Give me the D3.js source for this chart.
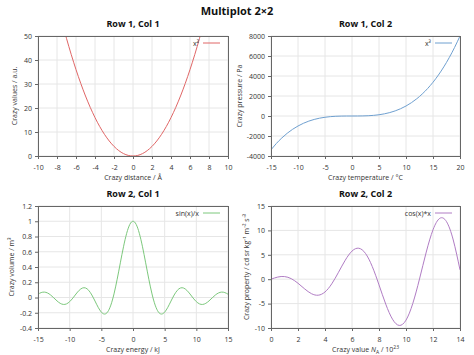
<!DOCTYPE html>
<html><head><meta charset="utf-8">
<script src="https://cdn.jsdelivr.net/npm/d3@7"></script>
<style>body{margin:0;background:#fff;font-family:"Open Sans",sans-serif}</style>
</head><body><svg id="c" width="474" height="355"></svg>
<script>
// ---- data ----
const x1 = [-10,-9.5,-9,-8.5,-8,-7.5,-7,-6.5,-6,-5.5,-5,-4.5,-4,-3.5,-3,-2.5,-2,-1.5,-1,-0.5,0,0.5,1,1.5,2,2.5,3,3.5,4,4.5,5,5.5,6,6.5,7,7.5,8,8.5,9,9.5,10];
const y1 = [100,90.25,81,72.25,64,56.25,49,42.25,36,30.25,25,20.25,16,12.25,9,6.25,4,2.25,1,0.25,0,0.25,1,2.25,4,6.25,9,12.25,16,20.25,25,30.25,36,42.25,49,56.25,64,72.25,81,90.25,100];
const x2 = [-15,-14,-13,-12,-11,-10,-9,-8,-7,-6,-5,-4,-3,-2,-1,0,1,2,3,4,5,6,7,8,9,10,11,12,13,14,15,16,17,18,19,20];
const y2 = [-3375,-2744,-2197,-1728,-1331,-1000,-729,-512,-343,-216,-125,-64,-27,-8,-1,0,1,8,27,64,125,216,343,512,729,1000,1331,1728,2197,2744,3375,4096,4913,5832,6859,8000];
const x3 = [-15,-14.5,-14,-13.5,-13,-12.5,-12,-11.5,-11,-10.5,-10,-9.5,-9,-8.5,-8,-7.5,-7,-6.5,-6,-5.5,-5,-4.5,-4,-3.5,-3,-2.5,-2,-1.5,-1,-0.5,0,0.5,1,1.5,2,2.5,3,3.5,4,4.5,5,5.5,6,6.5,7,7.5,8,8.5,9,9.5,10,10.5,11,11.5,12,12.5,13,13.5,14,14.5,15];
const y3 = [0.0434,0.0645,0.0708,0.0595,0.0323,-0.0053,-0.0447,-0.0761,-0.0909,-0.0838,-0.0544,-0.0079,0.0458,0.0939,0.1237,0.1251,0.0939,0.0331,-0.0466,-0.1283,-0.1918,-0.2172,-0.1892,-0.1002,0.0470,0.2394,0.4546,0.6650,0.8415,0.9589,1,0.9589,0.8415,0.6650,0.4546,0.2394,0.0470,-0.1002,-0.1892,-0.2172,-0.1918,-0.1283,-0.0466,0.0331,0.0939,0.1251,0.1237,0.0939,0.0458,-0.0079,-0.0544,-0.0838,-0.0909,-0.0761,-0.0447,-0.0053,0.0323,0.0595,0.0708,0.0645,0.0434];
const x4 = [0,0.5,1,1.5,2,2.5,3,3.5,4,4.5,5,5.5,6,6.5,7,7.5,8,8.5,9,9.5,10,10.5,11,11.5,12,12.5,13,13.5,14];
const y4 = [0,0.4388,0.5403,0.1061,-0.8323,-2.0029,-2.9700,-3.2776,-2.6146,-0.9486,1.4183,3.8977,5.7610,6.3479,5.2773,2.5992,-1.1640,-5.1170,-8.2000,-9.4734,-8.3907,-4.9928,0.0487,5.5590,10.1262,12.4728,11.7966,8.0316,1.9142];
const ticks1x = [-10,-8,-6,-4,-2,0,2,4,6,8,10], ticks1y = [0,10,20,30,40,50];
const ticks2x = [-15,-10,-5,0,5,10,15,20], ticks2y = [-4000,-2000,0,2000,4000,6000,8000];
const ticks3x = [-15,-10,-5,0,5,10,15], ticks3y = [-0.4,-0.2,0,0.2,0.4,0.6,0.8,1,1.2];
const ticks4x = [0,2,4,6,8,10,12,14], ticks4y = [-10,-5,0,5,10,15];

const svg = d3.select("#c");
svg.append("text").attr("x",237).attr("y",15).attr("text-anchor","middle")
  .attr("font-size",11).attr("font-weight","bold").attr("fill","#111").text("Multiplot 2×2");

const panels = [
 {x:x1,y:y1,tx:ticks1x,ty:ticks1y,l:38,r:228,t:36,b:156,title:"Row 1, Col 1",color:"#e06666",
  leg:"x²",xl:["Crazy distance / Å"],yl:"Crazy values / a.u.",ylx:17},
 {x:x2,y:y2,tx:ticks2x,ty:ticks2y,l:271,r:460,t:36,b:156,title:"Row 1, Col 2",color:"#6fa0d0",
  leg:"x³",xl:["Crazy temperature / °C"],yl:"Crazy pressure / Pa",ylx:242},
 {x:x3,y:y3,tx:ticks3x,ty:ticks3y,l:38,r:228,t:206,b:328,title:"Row 2, Col 1",color:"#7cc87c",
  leg:"sin(x)/x",xl:["Crazy energy / kJ"],yl:"Crazy volume / m³",ylx:14},
 {x:x4,y:y4,tx:ticks4x,ty:ticks4y,l:271,r:460,t:206,b:328,title:"Row 2, Col 2",color:"#b07cc4",
  leg:"cos(x)*x",xl:null,yl:"Crazy property / cd sr kg⁻¹ m⁻² s⁻³",ylx:249}
];

panels.forEach((p,i)=>{
  const xs = d3.scaleLinear().domain(d3.extent(p.tx)).range([p.l,p.r]);
  const ys = d3.scaleLinear().domain(d3.extent(p.ty)).range([p.b,p.t]);
  const g = svg.append("g");
  g.selectAll(".gx").data(p.tx).enter().append("line")
   .attr("x1",d=>xs(d)).attr("x2",d=>xs(d)).attr("y1",p.t).attr("y2",p.b)
   .attr("stroke","#e6e6e6").attr("stroke-width",1);
  g.selectAll(".gy").data(p.ty).enter().append("line")
   .attr("y1",d=>ys(d)).attr("y2",d=>ys(d)).attr("x1",p.l).attr("x2",p.r)
   .attr("stroke","#e6e6e6").attr("stroke-width",1);
  const cid = "clip"+i;
  svg.append("clipPath").attr("id",cid).append("rect")
    .attr("x",p.l).attr("y",p.t).attr("width",p.r-p.l).attr("height",p.b-p.t);
  const data = p.x.map((v,k)=>[v,p.y[k]]);
  g.append("path").datum(data).attr("clip-path","url(#"+cid+")")
   .attr("fill","none").attr("stroke",p.color).attr("stroke-width",1)
   .attr("d",d3.line().x(d=>xs(d[0])).y(d=>ys(d[1])).curve(d3.curveNatural));
  const fmt = d=>String(d);
  const ax = g.append("g").attr("transform",`translate(0,${p.b})`)
    .call(d3.axisBottom(xs).tickValues(p.tx).tickSize(3).tickSizeOuter(0).tickFormat(fmt));
  const ay = g.append("g").attr("transform",`translate(${p.l},0)`)
    .call(d3.axisLeft(ys).tickValues(p.ty).tickSize(3).tickSizeOuter(0).tickFormat(fmt));
  [ax,ay].forEach(a=>{
    a.select(".domain").attr("stroke","#666");
    a.selectAll(".tick line").attr("stroke","#666");
    a.selectAll("text").attr("font-size",7).attr("fill","#333").attr("font-family","Open Sans, sans-serif");
  });
  ax.selectAll("text").attr("dy","1.15em");
  g.append("line").attr("x1",p.l).attr("x2",p.r).attr("y1",p.t+0.5).attr("y2",p.t+0.5).attr("stroke","#666");
  g.append("line").attr("x1",p.r+0.5).attr("x2",p.r+0.5).attr("y1",p.t).attr("y2",p.b).attr("stroke","#666");
  g.append("text").attr("x",(p.l+p.r)/2).attr("y",p.t-9).attr("text-anchor","middle")
   .attr("font-size",9).attr("font-weight","bold").attr("fill","#111").text(p.title);
  const xlt = g.append("text").attr("x",(p.l+p.r)/2).attr("y",p.b+24).attr("text-anchor","middle")
   .attr("font-size",7).attr("fill","#333");
  if(p.xl) xlt.text(p.xl[0]);
  else {
    xlt.append("tspan").text("Crazy value ");
    xlt.append("tspan").attr("font-style","italic").text("N");
    xlt.append("tspan").attr("font-size",5).attr("dy",1.5).text("A");
    xlt.append("tspan").attr("dy",-1.5).text(" / 10");
    xlt.append("tspan").attr("font-size",5).attr("dy",-3).text("23");
  }
  g.append("text").attr("transform",`translate(${p.ylx},${(p.t+p.b)/2}) rotate(-90)`)
   .attr("text-anchor","middle").attr("font-size",7).attr("fill","#333").text(p.yl);
  const ly = p.t+7;
  g.append("line").attr("x1",p.r-25).attr("x2",p.r-8).attr("y1",ly).attr("y2",ly)
   .attr("stroke",p.color).attr("stroke-width",1);
  g.append("text").attr("x",p.r-29).attr("y",ly+2.5).attr("text-anchor","end")
   .attr("font-size",7).attr("fill","#333").text(p.leg);
});
</script></body></html>
